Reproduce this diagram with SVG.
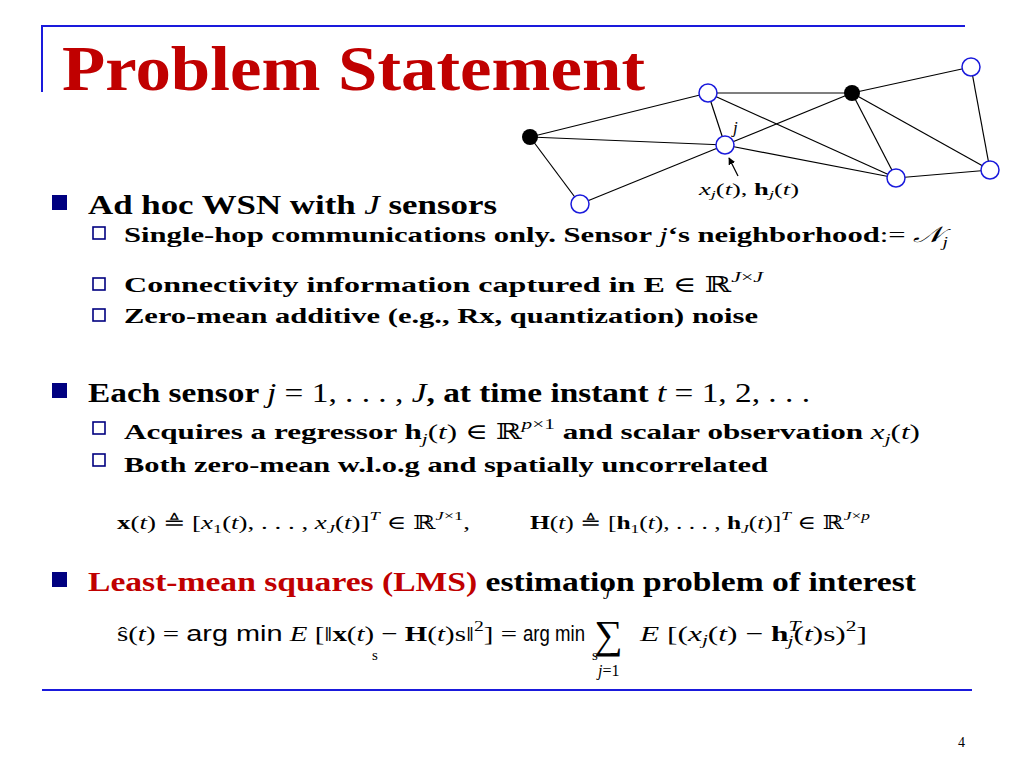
<svg xmlns="http://www.w3.org/2000/svg" width="1024" height="768" viewBox="0 0 1024 768">
<style>
.t{font-family:"Liberation Serif","DejaVu Serif",serif;font-weight:bold;fill:#000}
.m{font-family:"Liberation Serif","DejaVu Serif",serif;fill:#000}
.i{font-style:italic}
.s{font-family:"Liberation Sans","DejaVu Sans",sans-serif;fill:#000}
.e{stroke:#000;stroke-width:1.2}
.w{fill:#fff;stroke:#1a1adc;stroke-width:1.5}
.b{fill:#000}
.bl{fill:#000080}
.cb{fill:#fff;stroke:#000080;stroke-width:1.6}
</style>
<defs><marker id="ar" viewBox="0 0 10 10" refX="9" refY="5" markerWidth="6" markerHeight="6" orient="auto"><path d="M0,0L10,5L0,10z" fill="#000"/></marker></defs>
<rect width="1024" height="768" fill="#fff"/>
<path d="M42,92V26H965" fill="none" stroke="#1a1adc" stroke-width="2"/>
<line x1="42" y1="690" x2="972" y2="690" stroke="#1a1adc" stroke-width="2"/>
<text x="62" y="90" font-size="64" class="t" style="fill:#c00000" textLength="583" lengthAdjust="spacingAndGlyphs">Problem Statement</text>
<g id="connectors">
<line class="e" x1="530" y1="137" x2="708" y2="93"/><line class="e" x1="530" y1="137" x2="725" y2="145"/>
<line class="e" x1="530" y1="137" x2="580" y2="204"/><line class="e" x1="580" y1="204" x2="725" y2="145"/>
<line class="e" x1="708" y1="93" x2="852" y2="93"/><line class="e" x1="708" y1="93" x2="725" y2="145"/>
<line class="e" x1="708" y1="93" x2="896" y2="178"/><line class="e" x1="725" y1="145" x2="852" y2="93"/>
<line class="e" x1="725" y1="145" x2="896" y2="178"/><line class="e" x1="852" y1="93" x2="971" y2="67"/>
<line class="e" x1="852" y1="93" x2="896" y2="178"/><line class="e" x1="852" y1="93" x2="990" y2="170"/>
<line class="e" x1="971" y1="67" x2="990" y2="170"/><line class="e" x1="896" y1="178" x2="990" y2="170"/>
<line class="e" x1="738" y1="176" x2="729" y2="158" marker-end="url(#ar)"/>
</g>
<g id="nA"><circle class="b" cx="530" cy="137" r="8"/></g>
<g id="nB"><circle class="w" cx="708" cy="93" r="9"/></g>
<g id="nC"><circle class="b" cx="852" cy="93" r="8"/></g>
<g id="nD"><circle class="w" cx="971" cy="67" r="9"/></g>
<g id="nE"><circle class="w" cx="725" cy="145" r="9"/><text x="733" y="133" font-size="17" class="m i">j</text></g>
<g id="nF"><circle class="w" cx="580" cy="204" r="9"/></g>
<g id="nG"><circle class="w" cx="896" cy="178" r="9"/></g>
<g id="nH"><circle class="w" cx="990" cy="170" r="9"/></g>
<text x="699" y="195" font-size="16" class="m" textLength="100" lengthAdjust="spacingAndGlyphs"><tspan class="i">x</tspan><tspan font-size="11" class="i" dy="3">j</tspan><tspan dy="-3">(</tspan><tspan class="i">t</tspan>), <tspan font-weight="bold">h</tspan><tspan font-size="11" class="i" dy="3">j</tspan><tspan dy="-3">(</tspan><tspan class="i">t</tspan>)</text>

<rect x="52" y="195" width="15" height="15" class="bl"/>
<text x="88" y="214" font-size="27" class="t" textLength="409" lengthAdjust="spacingAndGlyphs">Ad hoc WSN with <tspan class="i" font-weight="normal">J</tspan> sensors</text>
<rect x="93" y="227" width="12" height="12" class="cb"/>
<text x="124" y="242" font-size="22" class="t" textLength="824" lengthAdjust="spacingAndGlyphs">Single-hop communications only. Sensor <tspan class="i" font-weight="normal">j</tspan>‘s neighborhood<tspan font-weight="normal">:= </tspan><tspan class="i" font-weight="normal">𝒩</tspan><tspan font-size="14" class="i" font-weight="normal" dy="5">j</tspan></text>
<rect x="93" y="278" width="12" height="12" class="cb"/>
<text x="124" y="292" font-size="22" class="t" textLength="639" lengthAdjust="spacingAndGlyphs">Connectivity information captured in E <tspan font-weight="normal">∈ ℝ</tspan><tspan font-size="15" font-weight="normal" class="i" dy="-10">J</tspan><tspan font-size="15" font-weight="normal">×</tspan><tspan font-size="15" font-weight="normal" class="i">J</tspan></text>
<rect x="93" y="309" width="12" height="12" class="cb"/>
<text x="124" y="323" font-size="22" class="t" textLength="634" lengthAdjust="spacingAndGlyphs">Zero-mean additive (e.g., Rx, quantization) noise</text>

<rect x="52" y="383" width="15" height="15" class="bl"/>
<text x="88" y="402" font-size="27" class="t" textLength="722" lengthAdjust="spacingAndGlyphs">Each sensor <tspan font-weight="normal"><tspan class="i">j</tspan> = 1, . . . , <tspan class="i">J</tspan></tspan>, at time instant <tspan font-weight="normal"><tspan class="i">t</tspan> = 1, 2, . . .</tspan></text>
<rect x="93" y="422" width="12" height="12" class="cb"/>
<text x="124" y="439" font-size="22" class="t" textLength="796" lengthAdjust="spacingAndGlyphs">Acquires a regressor h<tspan font-size="15" font-weight="normal" class="i" dy="5">j</tspan><tspan font-weight="normal" dy="-5">(<tspan class="i">t</tspan>) ∈ ℝ</tspan><tspan font-size="15" font-weight="normal" dy="-10"><tspan class="i">p</tspan>×1</tspan><tspan dy="10"> and scalar observation </tspan><tspan font-weight="normal"><tspan class="i">x</tspan><tspan font-size="15" class="i" dy="5">j</tspan><tspan dy="-5">(<tspan class="i">t</tspan>)</tspan></tspan></text>
<rect x="93" y="454" width="12" height="12" class="cb"/>
<text x="124" y="472" font-size="22" class="t" textLength="644" lengthAdjust="spacingAndGlyphs">Both zero-mean w.l.o.g and spatially uncorrelated</text>

<text x="117" y="529" font-size="19" class="m" textLength="353" lengthAdjust="spacingAndGlyphs"><tspan font-weight="bold">x</tspan>(<tspan class="i">t</tspan>) ≜ [<tspan class="i">x</tspan><tspan font-size="13" dy="4">1</tspan><tspan dy="-4">(<tspan class="i">t</tspan>), . . . , <tspan class="i">x</tspan></tspan><tspan font-size="13" class="i" dy="4">J</tspan><tspan dy="-4">(<tspan class="i">t</tspan>)]</tspan><tspan font-size="13" class="i" dy="-9">T</tspan><tspan dy="9"> ∈ ℝ</tspan><tspan font-size="13" dy="-9"><tspan class="i">J</tspan>×1</tspan><tspan dy="9">,</tspan></text>
<text x="530" y="529" font-size="19" class="m" textLength="340" lengthAdjust="spacingAndGlyphs"><tspan font-weight="bold">H</tspan>(<tspan class="i">t</tspan>) ≜ [<tspan font-weight="bold">h</tspan><tspan font-size="13" dy="4">1</tspan><tspan dy="-4">(<tspan class="i">t</tspan>), . . . , </tspan><tspan font-weight="bold">h</tspan><tspan font-size="13" class="i" dy="4">J</tspan><tspan dy="-4">(<tspan class="i">t</tspan>)]</tspan><tspan font-size="13" class="i" dy="-9">T</tspan><tspan dy="9"> ∈ ℝ</tspan><tspan font-size="13" dy="-9"><tspan class="i">J</tspan>×<tspan class="i">p</tspan></tspan></text>

<rect x="52" y="572" width="15" height="15" class="bl"/>
<text x="88" y="591" font-size="27" class="t" textLength="828" lengthAdjust="spacingAndGlyphs"><tspan style="fill:#c00000">Least-mean squares (LMS)</tspan> estimation problem of interest</text>

<text x="117" y="641" font-size="22" class="m" textLength="400" lengthAdjust="spacingAndGlyphs">ŝ(<tspan class="i">t</tspan>) = <tspan class="s">arg min</tspan> <tspan class="i">E</tspan> [‖<tspan font-weight="bold">x</tspan>(<tspan class="i">t</tspan>) − <tspan font-weight="bold">H</tspan>(<tspan class="i">t</tspan>)s‖<tspan font-size="15" dy="-10">2</tspan><tspan dy="10">] =</tspan></text>
<text x="523" y="641" font-size="22" class="s" textLength="62" lengthAdjust="spacingAndGlyphs">arg min</text>
<text x="594" y="648" font-size="40" class="m">∑</text>
<text x="640" y="641" font-size="22" class="m" textLength="227" lengthAdjust="spacingAndGlyphs"><tspan class="i">E</tspan> [(<tspan class="i">x</tspan><tspan font-size="15" class="i" dy="4">j</tspan><tspan dy="-4">(<tspan class="i">t</tspan>) − </tspan><tspan font-weight="bold">h</tspan><tspan font-size="15" class="i" dy="-10">T</tspan><tspan font-size="15" class="i" dx="-9" dy="15">j</tspan><tspan dy="-5">(<tspan class="i">t</tspan>)s)</tspan><tspan font-size="15" dy="-10">2</tspan><tspan dy="10">]</tspan></text>
<text x="372" y="660" font-size="15" class="m">s</text>
<text x="592" y="660" font-size="15" class="m">s</text>
<text x="603" y="599" font-size="16" class="m i">J</text>
<text x="598" y="676" font-size="16" class="m"><tspan class="i">j</tspan>=1</text>
<text x="958" y="747" font-size="14" class="m">4</text>
</svg>
